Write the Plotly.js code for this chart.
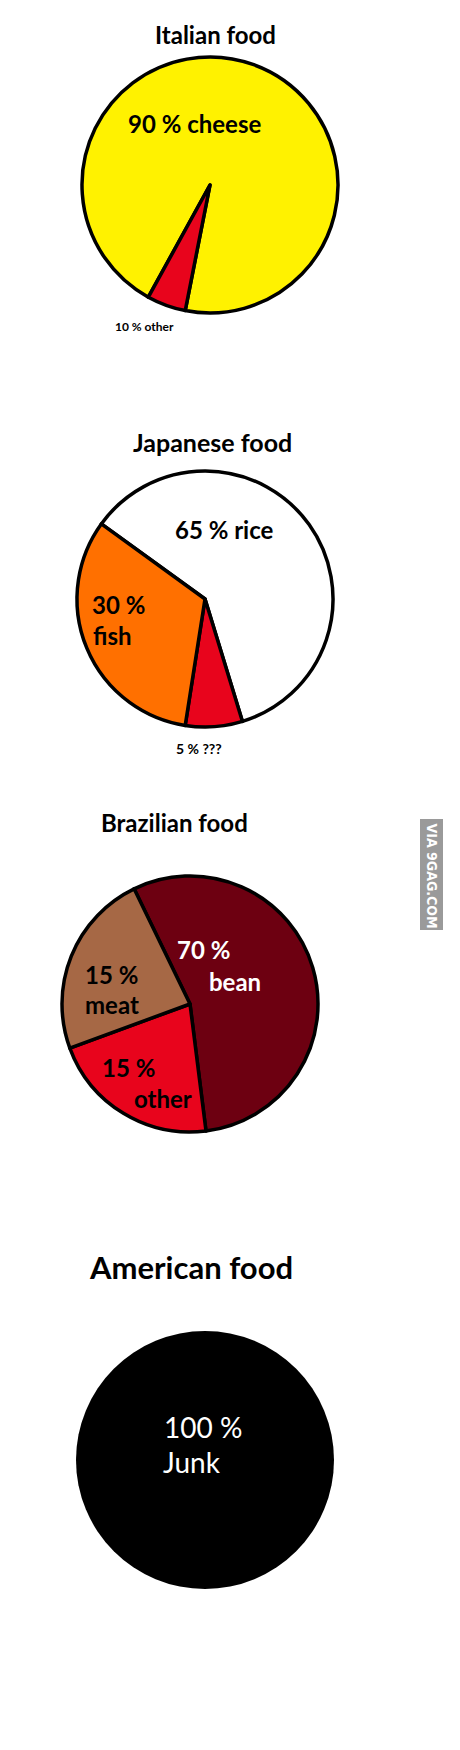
<!DOCTYPE html>
<html><head><meta charset="utf-8">
<script src="https://cdn.plot.ly/plotly-3.0.1.min.js"></script>
<style>html,body{margin:0;padding:0;background:#fff;}#chart{width:460px;height:1750px;}</style>
</head><body><div id="chart"></div>
<script>
const chartTitles = ['Italian food', 'Japanese food', 'Brazilian food', 'American food'];

const italianCategories = ['cheese', 'other'];
const italianValues = [95.1, 4.9];
const italianPercentText = ['90 %', '10 %'];

const japaneseCategories = ['rice', '???', 'fish'];
const japaneseValues = [60.3, 7.2, 32.5];
const japanesePercentText = ['65 %', '5 %', '30 %'];

const brazilianCategories = ['bean', 'other', 'meat'];
const brazilianValues = [55.2, 21.4, 23.4];
const brazilianPercentText = ['70 %', '15 %', '15 %'];

const americanCategories = ['Junk'];
const americanValues = [100];
const americanPercentText = ['100 %'];

const watermarkText = 'VIA 9GAG.COM';

// ---------- layout helpers ----------
const W = 460, H = 1750;
const px = x => x / W;
const py = y => 1 - y / H;
function dom(cx, cy, r) { return { x: [px(cx - r), px(cx + r)], y: [py(cy + r), py(cy - r)] }; }

const RED = '#E8041C';
const outline = { color: '#000', width: 3.5 };

const traces = [
  { type: 'pie', labels: italianCategories, values: italianValues, sort: false, direction: 'clockwise',
    rotation: 208.8, domain: dom(210, 185, 128), textinfo: 'none', hoverinfo: 'none',
    marker: { colors: ['#FFF200', RED], line: outline } },
  { type: 'pie', labels: japaneseCategories, values: japaneseValues, sort: false, direction: 'clockwise',
    rotation: 305.9, domain: dom(205, 599, 128), textinfo: 'none', hoverinfo: 'none',
    marker: { colors: ['#FFFFFF', RED, '#FF7000'], line: outline } },
  { type: 'pie', labels: brazilianCategories, values: brazilianValues, sort: false, direction: 'clockwise',
    rotation: 334.1, domain: dom(190, 1004, 128), textinfo: 'none', hoverinfo: 'none',
    marker: { colors: ['#6D0011', RED, '#A66845'], line: outline } },
  { type: 'pie', labels: americanCategories, values: americanValues, sort: false, direction: 'clockwise',
    rotation: 0, domain: dom(205, 1460, 129), textinfo: 'none', hoverinfo: 'none',
    marker: { colors: ['#000000'], line: { color: '#000', width: 0 } } }
];

const FONT = 'Lato, "Open Sans", sans-serif';
function ann(text, x, y, size, opts) {
  opts = opts || {};
  return {
    text: text, xref: 'paper', yref: 'paper', x: px(x), y: py(y),
    xanchor: opts.xanchor || 'center', yanchor: 'middle', showarrow: false, align: 'left',
    font: { family: FONT, size: size, color: opts.color || '#000', weight: opts.weight || 'bold' }
  };
}
const L = { xanchor: 'left' };
const LW = { xanchor: 'left', color: '#fff' };

const annotations = [
  // titles
  ann('<b>' + chartTitles[0] + '</b>', 215, 34, 24),
  ann('<b>' + chartTitles[1] + '</b>', 212, 442, 25),
  ann('<b>' + chartTitles[2] + '</b>', 174, 822, 24),
  ann('<b>' + chartTitles[3] + '</b>', 191, 1267, 31),
  // Italian
  ann(italianPercentText[0] + ' ' + italianCategories[0], 194, 123, 24),
  ann(italianPercentText[1] + ' ' + italianCategories[1], 144, 327, 12),
  // Japanese
  ann(japanesePercentText[0] + ' ' + japaneseCategories[0], 224, 529, 24),
  ann(japanesePercentText[1] + ' ' + japaneseCategories[1], 199, 748, 14),
  ann(japanesePercentText[2], 90, 605, 24, L),
  ann(japaneseCategories[2], 91, 635, 24, L),
  // Brazilian
  ann(brazilianPercentText[0], 175, 949, 24, LW),
  ann(brazilianCategories[0], 207, 981, 24, LW),
  ann(brazilianPercentText[1], 100, 1067, 24, L),
  ann(brazilianCategories[1], 132, 1098, 24, L),
  ann(brazilianPercentText[2], 83, 974, 24, L),
  ann(brazilianCategories[2], 83, 1004, 24, L),
  // American
  ann(americanPercentText[0], 162, 1427, 28, { xanchor: 'left', color: '#fff', weight: 'normal' }),
  ann(americanCategories[0], 161, 1462, 28, { xanchor: 'left', color: '#fff', weight: 'normal' }),
  // watermark
  { text: '<b>' + watermarkText + '</b>', xref: 'paper', yref: 'paper', x: px(431.5), y: py(876),
    xanchor: 'center', yanchor: 'middle', showarrow: false, textangle: 90,
    font: { family: '"Liberation Sans Narrow", "DejaVu Sans Condensed", "Arial Narrow", sans-serif', size: 14, color: '#fff' } }
];

const shapes = [
  { type: 'rect', xref: 'paper', yref: 'paper', x0: px(420), x1: px(443), y0: py(930), y1: py(819),
    fillcolor: '#9A9A9A', line: { width: 0 }, layer: 'below' }
];

const layout = {
  width: W, height: H, margin: { l: 0, r: 0, t: 0, b: 0 },
  paper_bgcolor: '#fff', plot_bgcolor: '#fff', showlegend: false,
  annotations: annotations, shapes: shapes
};

Plotly.newPlot('chart', traces, layout, { staticPlot: true, displayModeBar: false });
</script>
</body></html>
